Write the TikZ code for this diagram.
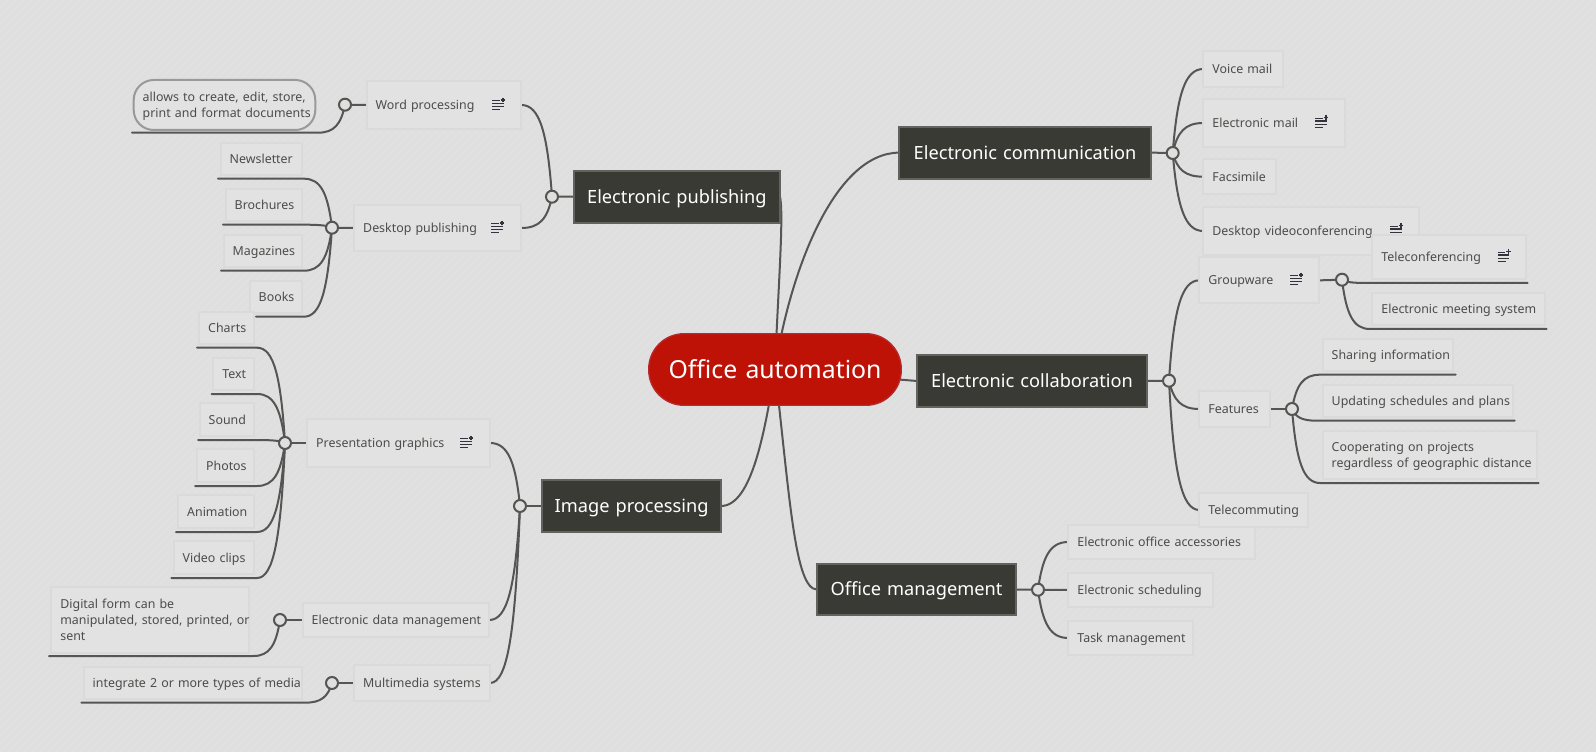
\documentclass[tikz,border=0pt]{standalone}
\usepackage{fontspec}
\setmainfont{Noto Sans}
\usetikzlibrary{calc}
\pgfdeclarelayer{bg}
\pgfsetlayers{bg,main}
\definecolor{paper}{HTML}{DFDFDF}
\definecolor{stripe}{HTML}{E1E1E1}
\definecolor{leaffill}{HTML}{E2E2E2}
\definecolor{leafedge}{HTML}{DADADA}
\definecolor{wire}{HTML}{555553}
\definecolor{ink}{HTML}{4C4C4A}
\definecolor{mainfill}{HTML}{3A3A35}
\definecolor{mainedge}{HTML}{62625E}
\definecolor{rootfill}{HTML}{BF1206}
\definecolor{rootedge}{HTML}{B52A2E}
\definecolor{iconink}{HTML}{33333D}
\newcommand{\leaffont}{\fontsize{9.3}{12}\selectfont}
\newcommand{\mainfont}{\fontsize{13.65}{16}\selectfont}
\newcommand{\rootfont}{\fontsize{18.6}{22}\selectfont}
\newcommand{\lb}[1]{\mbox{\rule[-0.28em]{0pt}{1.26em}#1}}
\tikzset{
  x=0.75pt,y=-0.75pt,
  conn/.style={draw=wire,line width=1.5pt,line cap=round},
  leafbox/.style={draw=leafedge,fill=leaffill,line width=1.5pt,text=ink,font=\leaffont,inner xsep=0pt,inner ysep=0pt,align=left,outer sep=0pt},
  notebox/.style={leafbox,draw=black!40,rounded corners=15pt},
  mainbox/.style={draw=mainedge,fill=mainfill,line width=1.5pt,text=white,font=\mainfont,inner xsep=0pt,inner ysep=0pt,align=center,outer sep=0pt},
  rootbox/.style={draw=rootedge,fill=rootfill,line width=1pt,text=white,font=\rootfont,inner xsep=0pt,inner ysep=0pt,align=center,rounded corners=26.5pt,outer sep=0pt},
  jct/.style={circle,draw=wire,fill=paper,line width=1.5pt,minimum size=9pt,inner sep=0pt,outer sep=0pt},
  iconline/.style={draw=iconink,line width=0.95pt},
}
% box given by its outer edges: [style]{name}{x1}{y1}{x2}{y2}{text}
\newcommand{\bx}[7][leafbox]{%
  \pgfmathsetlengthmacro{\mw}{(#5-#3-1.4)*0.75pt}%
  \pgfmathsetlengthmacro{\mh}{(#6-#4-1.4)*0.75pt}%
  \pgfmathsetlengthmacro{\tw}{(#5-#3-2-17.4)*0.75pt}%
  \node[#1,minimum width=\mw,minimum height=\mh,text width=\tw] (#2) at ({(#3+#5)/2},{(#4+#6)/2}) {#7};%
}
\newcommand{\jc}[3]{\node[jct] (#1) at (#2,#3) {};}
% curved connector from junction to anchor
\newcommand{\cv}[2]{%
  \begin{pgfonlayer}{bg}
  \draw[conn] let \p1=(#1),\p2=(#2) in (\p1) .. controls ({\x1+0.15*(\x2-\x1)},{\y1+0.7*(\y2-\y1)}) and ({\x1+0.4*(\x2-\x1)},{\y2}) .. (\p2);
  \end{pgfonlayer}}
% straight connector
\newcommand{\st}[2]{\begin{pgfonlayer}{bg}\draw[conn] (#1) -- (#2);\end{pgfonlayer}}
% curved connector that runs on as an underline: {junction}{name}{flat x}{y}{free x}
\newcommand{\ul}[5]{%
  \coordinate (#2flat) at (#3,#4);\coordinate (#2free) at (#5,#4);
  \begin{pgfonlayer}{bg}
  \draw[conn] let \p1=(#1),\p2=(#2flat) in (\p1) .. controls ({\x1+0.15*(\x2-\x1)},{\y1+0.7*(\y2-\y1)}) and ({\x1+0.4*(\x2-\x1)},{\y2}) .. (\p2) -- (#2free);
  \end{pgfonlayer}}
\newcommand{\ico}[2]{%
  \draw[iconline] (#1,#2-4) -- ++(7.5,0) (#1,#2-1.3) -- ++(11.5,0) (#1,#2+2) -- ++(11.5,0) (#1,#2+5) -- ++(8,0)
    (#1+11,#2-7) -- ++(0,4.6) (#1+8.7,#2-4.7) -- ++(4.6,0);}
\begin{document}
\begin{tikzpicture}
\useasboundingbox (0,0) rectangle (1596,752);
\begin{pgfonlayer}{bg}
  \fill[paper] (0,0) rectangle (1596,752);
  \begin{scope}
    \clip (0,0) rectangle (1596,752);
    \foreach \q in {-760,-752,...,1596} {\draw[stripe,line width=1.5pt] (\q,752) -- (\q+752,0);}
  \end{scope}
\end{pgfonlayer}

% root
\bx[rootbox]{root}{648}{333}{902}{406}{\lb{Office automation}}

% Electronic publishing
\bx[mainbox]{ep}{573}{170}{780.7}{223.3}{\lb{Electronic publishing}}
\jc{jep}{552}{196.7}
\bx{wp}{366}{80.7}{522}{129.3}{\lb{Word processing}}
\ico{492}{104.7}
\bx{dp}{353.5}{204}{522}{252}{\lb{Desktop publishing}}
\ico{491}{227.7}
\jc{jwp}{345}{104.7}
\bx[notebox]{wpn}{133}{79.3}{316}{130.7}{\lb{allows to create, edit, store,}\\\lb{print and format documents}}
\jc{jdp}{332}{227.7}
\bx{nl}{220}{142}{302.5}{176}{\lb{Newsletter}}
\bx{br}{225}{188}{302.5}{222}{\lb{Brochures}}
\bx{mg}{223}{234}{302.5}{268}{\lb{Magazines}}
\bx{bk}{249}{280}{302.5}{314}{\lb{Books}}
\st{ep.west}{jep.center}
\cv{jep.center}{wp.east}
\cv{jep.center}{dp.east}
\st{wp.west}{jwp.center}
\st{dp.west}{jdp.center}
\ul{jwp.center}{wpu}{318}{132.7}{132}
\ul{jdp.center}{nlu}{304}{178.7}{218}
\ul{jdp.center}{bru}{304}{224.7}{223}
\ul{jdp.center}{mgu}{304}{270.7}{221}
\ul{jdp.center}{bku}{304}{316.7}{256}

% Image processing
\bx[mainbox]{ip}{541.5}{479.3}{721.7}{532.7}{\lb{Image processing}}
\jc{jip}{520}{506}
\bx{pg}{306.5}{418.7}{490.7}{467.3}{\lb{Presentation graphics}}
\ico{460}{442.7}
\bx{ed}{302}{602}{490}{638}{\lb{Electronic data management}}
\bx{mm}{353.5}{664.7}{490.7}{701.3}{\lb{Multimedia systems}}
\jc{jpg}{285}{443}
\jc{jed}{280}{620}
\jc{jmm}{332}{683}
\bx{ch}{198.5}{311}{255}{345}{\lb{Charts}}
\bx{tx}{212.7}{357}{255}{391}{\lb{Text}}
\bx{so}{199}{402.7}{255}{436.7}{\lb{Sound}}
\bx{ph}{196.4}{448.7}{255}{482.7}{\lb{Photos}}
\bx{an}{177.5}{494.7}{255}{528.7}{\lb{Animation}}
\bx{vc}{173}{540.7}{255}{574.7}{\lb{Video clips}}
\bx{dg}{50.7}{586.7}{250}{653.3}{\lb{Digital form can be}\\\lb{manipulated, stored, printed, or}\\\lb{sent}}
\bx{ig}{83}{666}{302.5}{700}{\lb{integrate 2 or more types of media}}
\st{ip.west}{jip.center}
\cv{jip.center}{pg.east}
\cv{jip.center}{ed.east}
\cv{jip.center}{mm.east}
\st{pg.west}{jpg.center}
\st{ed.west}{jed.center}
\st{mm.west}{jmm.center}
\ul{jpg.center}{chu}{257}{347.7}{197}
\ul{jpg.center}{txu}{257}{394}{211.7}
\ul{jpg.center}{sou}{257}{440}{198}
\ul{jpg.center}{phu}{257}{486}{195}
\ul{jpg.center}{anu}{257}{532}{176}
\ul{jpg.center}{vcu}{257}{578}{171.4}
\ul{jed.center}{dgu}{253.5}{656}{49}
\ul{jmm.center}{igu}{305}{702.7}{81.4}

% Electronic communication
\bx[mainbox]{ec}{898.6}{126}{1151.6}{179.3}{\lb{Electronic communication}}
\jc{jec}{1172.7}{153}
\bx{vm}{1202.7}{50.7}{1283.3}{87.3}{\lb{Voice mail}}
\bx{em}{1202.7}{98.7}{1345.3}{147.3}{\lb{Electronic mail}}
\ico{1315}{122.3}
\bx{fx}{1202.7}{158.7}{1276.7}{194.7}{\lb{Facsimile}}
\bx{dv}{1202.7}{206.7}{1420}{255.3}{\lb{Desktop videoconferencing}}
\ico{1390}{230.3}
\st{ec.east}{jec.center}
\cv{jec.center}{vm.west}
\cv{jec.center}{em.west}
\cv{jec.center}{fx.west}
\cv{jec.center}{dv.west}

% Office management
\bx[mainbox]{om}{816.3}{563}{1016.7}{616}{\lb{Office management}}
\jc{jom}{1038}{589.7}
\bx{oa}{1067.7}{524}{1256}{560}{\lb{Electronic office accessories}}
\bx{es}{1067.7}{572}{1213.3}{608}{\lb{Electronic scheduling}}
\bx{tm}{1067.7}{620}{1193.3}{656}{\lb{Task management}}
\st{om.east}{jom.center}
\cv{jom.center}{oa.west}
\st{jom.center}{es.west}
\cv{jom.center}{tm.west}

% Electronic collaboration
\bx[mainbox]{cl}{916.5}{354.3}{1147.5}{407.7}{\lb{Electronic collaboration}}
\jc{jcl}{1169}{380.7}
\bx{gw}{1198.7}{256.7}{1320}{304}{\lb{Groupware}}
\ico{1290}{279.7}
\bx{ft}{1198.7}{390.7}{1270.7}{427.3}{\lb{Features}}
\bx{tc}{1198.7}{492}{1308.7}{528}{\lb{Telecommuting}}
\jc{jgw}{1342}{279.7}
\jc{jft}{1292}{409}
\bx{tl}{1371.7}{234}{1526.7}{280}{\lb{Teleconferencing}}
\ico{1497.7}{256.3}
\bx{ms}{1371.7}{292}{1545.3}{326}{\lb{Electronic meeting system}}
\bx{si}{1322}{338}{1454}{372}{\lb{Sharing information}}
\bx{us}{1322}{384}{1513.3}{418}{\lb{Updating schedules and plans}}
\bx{co}{1322}{430}{1537.3}{480}{\lb{Cooperating on projects}\\\lb{regardless of geographic distance}}
\st{cl.east}{jcl.center}
\cv{jcl.center}{gw.west}
\cv{jcl.center}{ft.west}
\cv{jcl.center}{tc.west}
\st{gw.east}{jgw.center}
\st{ft.east}{jft.center}
\ul{jgw.center}{tlu}{1366.7}{283}{1527.7}
\ul{jgw.center}{msu}{1370}{329}{1546.7}
\ul{jft.center}{siu}{1320}{374.7}{1455.7}
\ul{jft.center}{usu}{1316.7}{420.7}{1514.7}
\ul{jft.center}{cou}{1320}{483}{1538.7}

% main branches
\begin{pgfonlayer}{bg}
  \draw[conn] (root.center) .. controls (778,290) and (784,215) .. (ep.east);
  \draw[conn] (root.center) .. controls (790,270) and (835,152.7) .. (ec.west);
  \draw[conn] (root.center) -- (cl.west);
  \draw[conn] (root.center) .. controls (765,430) and (752,506) .. (ip.east);
  \draw[conn] (root.center) .. controls (790,500) and (795,589.3) .. (om.west);
\end{pgfonlayer}
\end{tikzpicture}
\end{document}
